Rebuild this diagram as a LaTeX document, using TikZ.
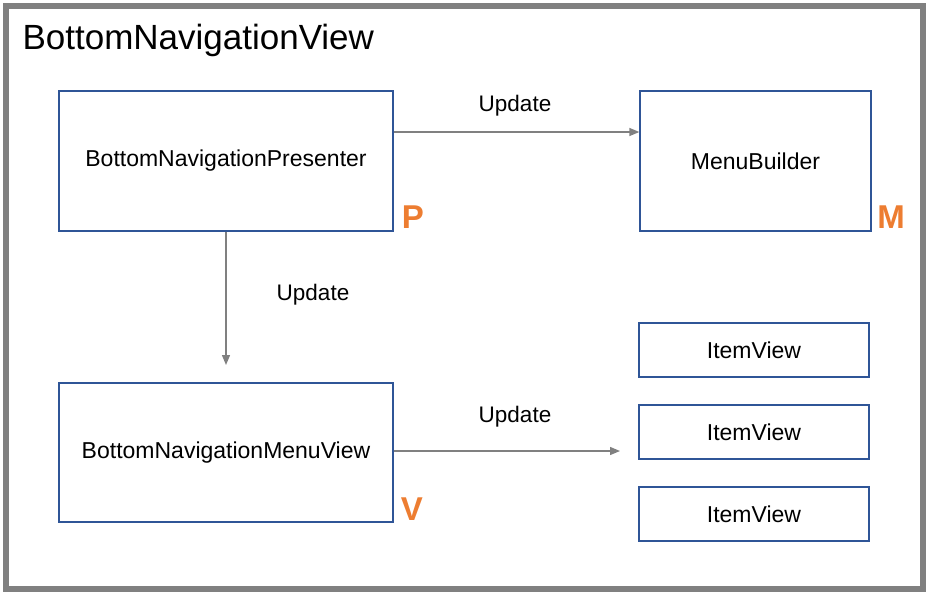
\documentclass[tikz,border=0pt]{standalone}
\usepackage{fontspec}
\setmainfont{Liberation Sans}
\usetikzlibrary{arrows.meta}
\definecolor{bx}{HTML}{2F5597}
\definecolor{og}{HTML}{ED7D31}
\definecolor{ar}{HTML}{808080}
\begin{document}
\begin{tikzpicture}[x=1pt,y=-1pt,
  box/.style={draw=bx,line width=1.3pt,fill=white,font=\fontsize{23}{27}\selectfont},
  lt/.style={text=og,font=\fontsize{33}{38}\selectfont\bfseries},
  arr/.style={draw=ar,line width=1.3pt,-{Triangle[length=10pt,width=8pt]}},
  lab/.style={font=\fontsize{22.5}{26}\selectfont}]
\useasboundingbox (0,0) rectangle (930,600);
\draw[ar,line width=6pt,fill=white] (6,6) rectangle (923,589);
\node[anchor=west,font=\fontsize{35}{40}\selectfont] (t) at (19,40) {BottomNavigationView};
\node[box,minimum width=334,minimum height=140] (p) at (226,161) {BottomNavigationPresenter};
\node[box,minimum width=231,minimum height=140] (m) at (755.5,161) {MenuBuilder};
\node[box,minimum width=334,minimum height=139] (v) at (226,452.5) {BottomNavigationMenuView};
\node[box,minimum width=230,minimum height=54] (i1) at (754,350) {ItemView};
\node[box,minimum width=230,minimum height=54] (i2) at (754,432) {ItemView};
\node[box,minimum width=230,minimum height=54] (i3) at (754,514) {ItemView};
\node[lt] (lp) at (413,217) {P};
\node[lt] (lm) at (891,217) {M};
\node[lt] (lv) at (412,509) {V};
\coordinate (e1) at (226,365);
\coordinate (e2) at (620,451);
\draw[arr] (p.east|-0,132) -- (m.west|-0,132);
\draw[arr] (p.south) -- (e1);
\draw[arr] (v.east|-0,451) -- (e2);
\node[lab] (u1) at (515,106) {Update};
\node[lab] (u2) at (313,295) {Update};
\node[lab] (u3) at (515,417) {Update};
\end{tikzpicture}
\end{document}
